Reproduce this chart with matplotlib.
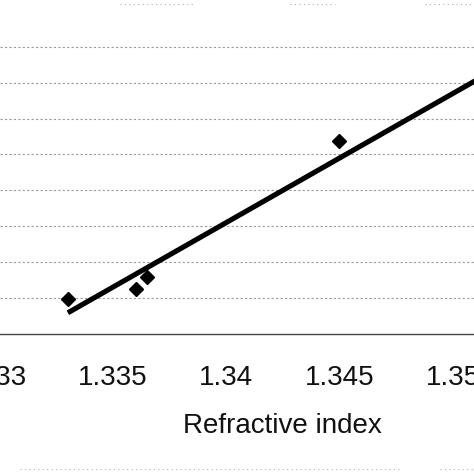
import matplotlib
matplotlib.use("Agg")
import matplotlib.pyplot as plt
from matplotlib.lines import Line2D

# Data
refr_index = [1.3330, 1.3360, 1.3365, 1.3450]
response = [0.97, 1.25, 1.58, 5.36]
trend_x = [1.3330, 1.3510]
trend_y = [0.59, 7.05]
xticks = [1.33, 1.335, 1.34, 1.345, 1.35]
xtick_labels = ["1.33", "1.335", "1.34", "1.345", "1.35"]
ygrid = [1, 2, 3, 4, 5, 6, 7, 8]

plt.rcParams['font.family'] = ['Liberation Sans', 'DejaVu Sans']

fig = plt.figure(figsize=(4.74, 4.74), dpi=100)
ax = fig.add_axes([0.0, 0.2954, 1.0, 0.7046])

ax.set_xlim(1.33007, 1.35095)
ax.set_ylim(0, 9.3)

for g in ygrid:
    ax.axhline(g, color='#9a9a9a', lw=0.8, ls=(0, (2, 2)), zorder=1)

ax.plot(trend_x, trend_y, color='black', lw=3.7, solid_capstyle='butt', zorder=3)
ax.plot(refr_index, response, ls='none', marker='D', ms=7.5, color='black', zorder=4)

ax.set_xticks(xticks)
ax.set_xticklabels(xtick_labels, fontsize=20, color='#111111')
ax.set_yticks([])
ax.tick_params(axis='x', length=0, pad=22)
for s in ['top', 'right', 'left']:
    ax.spines[s].set_visible(False)
ax.spines['bottom'].set_color('#444444')
ax.spines['bottom'].set_linewidth(1.0)
ax.spines['bottom'].set_linestyle((0, (3, 1)))

fig.text(282 / 474, 1 - 426 / 474, "Refractive index", fontsize=20,
         ha='center', va='center', color='#111111')

# faint remnants at the crop edges
for (x0, x1, yy) in [(120, 195, 4), (290, 335, 4), (425, 474, 4),
                     (20, 400, 469), (440, 474, 469)]:
    fig.add_artist(Line2D([x0 / 474, x1 / 474], [1 - yy / 474, 1 - yy / 474],
                          transform=fig.transFigure, color='#b0b0b0',
                          lw=0.8, ls=(0, (1, 3))))

fig.savefig("out.png", dpi=100)
